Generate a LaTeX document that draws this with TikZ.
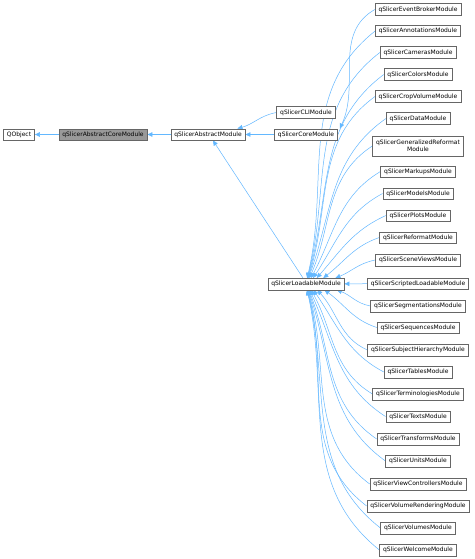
\documentclass[tikz,border=0pt]{standalone}
\usepackage{fontspec}
\usepackage{xcolor}
\usepackage{tikz}
\usetikzlibrary{arrows.meta,positioning,backgrounds}
\newfontfamily\dvs{DejaVu Sans}
\definecolor{steel}{HTML}{63B8FF}
\definecolor{grey40}{HTML}{666666}
\definecolor{grey60}{HTML}{999999}

\begin{document}
\begin{tikzpicture}[
  x=1pt,y=-1pt,
  n/.style={draw=grey40,fill=white,line width=0.5pt,minimum height=11.5pt,inner xsep=3.5pt,inner ysep=1pt,align=center,font=\dvs\fontsize{6}{6.8}\selectfont},
  a/.style={-{Triangle[length=5pt,width=4.5pt]},draw=steel,line width=0.5pt}
]
\useasboundingbox (0,0) rectangle (474,559);
% base classes
\node[n] (qo) at (19,134.5) {QObject};
\node[n,fill=grey60] (acm) at (103,134.5) {qSlicerAbstractCoreModule};
\node[n] (am) at (208,134.5) {qSlicerAbstractModule};
\node[n] (cli) at (306,112.5) {qSlicerCLIModule};
\node[n] (core) at (306,134.5) {qSlicerCoreModule};
\node[n] (lm) at (306,284) {qSlicerLoadableModule};
% derived modules
\foreach \nm/\y/\txt in {eb/9.5/qSlicerEventBrokerModule,ann/31/qSlicerAnnotationsModule,
  cam/52.5/qSlicerCamerasModule,col/74.5/qSlicerColorsModule,crop/96.5/qSlicerCropVolumeModule,
  data/118.5/qSlicerDataModule,mark/171.5/qSlicerMarkupsModule,mod/193.5/qSlicerModelsModule,
  plot/215.5/qSlicerPlotsModule,ref/237.5/qSlicerReformatModule,sv/260/qSlicerSceneViewsModule,
  sl/283.5/qSlicerScriptedLoadableModule,seg/306/qSlicerSegmentationsModule,
  seq/327.5/qSlicerSequencesModule,sh/350/qSlicerSubjectHierarchyModule,tab/372/qSlicerTablesModule,
  term/394/qSlicerTerminologiesModule,txt/416.5/qSlicerTextsModule,tr/439/qSlicerTransformsModule,
  un/461/qSlicerUnitsModule,vc/484/qSlicerViewControllersModule,vr/506/qSlicerVolumeRenderingModule,
  vol/528/qSlicerVolumesModule,wel/550/qSlicerWelcomeModule}
  \node[n] (\nm) at (418,\y) {\txt};
\node[n,minimum height=20pt] (gr) at (418,146) {qSlicerGeneralizedReformat\\Module};
% inheritance
\begin{scope}[on background layer]
\fill[white] (0,0) rectangle (474,559);
\draw[a] (acm)--(qo); \draw[a] (am)--(acm); \draw[a] (core)--(am);
\draw[a] (cli.west) to[out=190,in=15] ([xshift=-8pt]am.north east);
\draw[a] ([xshift=-3pt]lm.north) -- ([xshift=5pt]am.south);
\draw[a] (eb.west) to[out=210,in=65] ([xshift=2pt]core.north east);
\draw[a] (sl) -- (lm);
\foreach \nm/\y in {ann/31,cam/52.5,col/74.5,crop/96.5,data/118.5,gr/146,mark/171.5,
  mod/193.5,plot/215.5,ref/237.5,sv/260}{
  \pgfmathsetmacro\th{atan2(284-\y,60)}
  \pgfmathsetmacro\ou{180+0.5*\th}
  \pgfmathsetmacro\sh{31*((90-\th)/70)^2}
  \draw[a] (\nm.west) to[out=\ou,in=\th] ([xshift=\sh pt]lm.north);
}
\foreach \nm/\y in {seg/306,seq/327.5,sh/350,tab/372,term/394,txt/416.5,tr/439,
  un/461,vc/484,vr/506,vol/528,wel/550}{
  \pgfmathsetmacro\th{atan2(\y-284,60)}
  \pgfmathsetmacro\ou{180-0.5*\th}
  \pgfmathsetmacro\sh{31*((90-\th)/70)^2}
  \pgfmathsetmacro\ia{-\th}
  \draw[a] (\nm.west) to[out=\ou,in=\ia] ([xshift=\sh pt]lm.south);
}
\end{scope}
\end{tikzpicture}
\end{document}
